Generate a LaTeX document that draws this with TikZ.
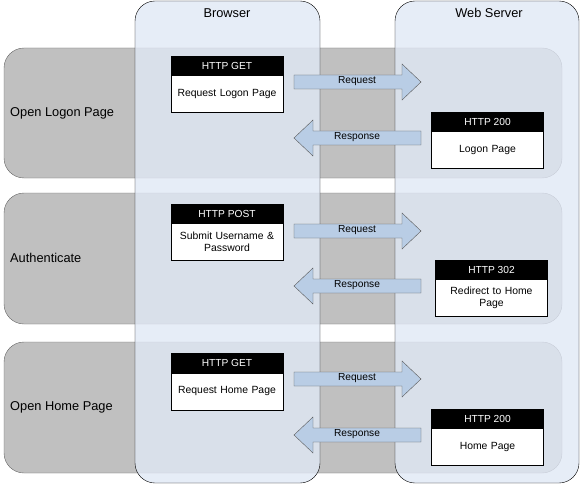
\documentclass[tikz,border=0pt]{standalone}
\usepackage{fontspec}
\setmainfont{Liberation Sans}
\usetikzlibrary{positioning}
\definecolor{bandgray}{HTML}{C0C0C0}
\definecolor{laneblue}{HTML}{E0E8F5}
\definecolor{arrowblue}{HTML}{B9CDE5}
\tikzset{
  band/.style={draw=black!60, fill=bandgray, rounded corners=20pt},
  lane/.style={draw=black, fill=laneblue, fill opacity=0.8, rounded corners=20pt},
  msghead/.style={draw=black, fill=black, text=white, font=\fontsize{10.2}{12}\selectfont,
    minimum width=112pt, minimum height=19pt, inner sep=0pt},
  msgbody/.style={draw=black, fill=white, font=\fontsize{10.4}{12.5}\selectfont,
    minimum width=112pt, minimum height=37pt, inner sep=0pt, text width=104pt, align=center},
  blockarrow/.style={draw=black!65, fill=arrowblue},
  arrowlabel/.style={font=\fontsize{10.2}{12}\selectfont, inner sep=0pt},
  phase/.style={font=\fontsize{12.8}{15}\selectfont, anchor=west, inner sep=0pt},
  lanetitle/.style={font=\fontsize{12.8}{15}\selectfont, inner sep=0pt}
}

\begin{document}
\begin{tikzpicture}[x=1pt,y=-1pt]
\useasboundingbox (0,0) rectangle (581,484);
% phases
\draw[band] (4,48) rectangle (562,178);
\draw[band] (4,193) rectangle (562,324);
\draw[band] (4,342) rectangle (562,473);
\node[phase] (logon) at (10,113) {Open Logon Page};
\node[phase] (auth) at (10,258) {Authenticate};
\node[phase] (home) at (10,407) {Open Home Page};
% lanes
\draw[lane] (135,1) rectangle (320,483);
\draw[lane] (395,1) rectangle (579,483);
\node[lanetitle] (browser) at (227,13) {Browser};
\node[lanetitle] (server) at (489,13) {Web Server};

% browser side
\node[msghead] (get1) at (227,65.5) {HTTP GET};
\node[msgbody, below=0pt of get1] (logonreq) {Request Logon Page};
\node[msghead] (post) at (227,213.5) {HTTP POST};
\node[msgbody, below=0pt of post] (submit) {Submit Username \&\\ Password};
\node[msghead] (get2) at (227,363) {HTTP GET};
\node[msgbody, below=0pt of get2] (homereq) {Request Home Page};

% server side
\node[msghead] (ok1) at (487.5,121.5) {HTTP 200};
\node[msgbody, below=0pt of ok1] (logonpage) {Logon Page};
\node[msghead] (redir) at (491.5,269.5) {HTTP 302};
\node[msgbody, below=0pt of redir] (redirect) {Redirect to Home\\ Page};
\node[msghead] (ok2) at (487.5,418.5) {HTTP 200};
\node[msgbody, below=0pt of ok2] (homepage) {Home Page};

% requests
\filldraw[blockarrow] (294,75) -- ++(108,0) -- ++(0,-11) -- ++(19,18) -- ++(-19,18) -- ++(0,-11) -- ++(-108,0) -- cycle;
\filldraw[blockarrow] (294,224) -- ++(108,0) -- ++(0,-11) -- ++(19,18) -- ++(-19,18) -- ++(0,-11) -- ++(-108,0) -- cycle;
\filldraw[blockarrow] (294,372) -- ++(108,0) -- ++(0,-11) -- ++(19,18) -- ++(-19,18) -- ++(0,-11) -- ++(-108,0) -- cycle;
% responses
\filldraw[blockarrow] (421,131) -- ++(-108,0) -- ++(0,-11) -- ++(-19,18) -- ++(19,18) -- ++(0,-11) -- ++(108,0) -- cycle;
\filldraw[blockarrow] (421,279) -- ++(-108,0) -- ++(0,-11) -- ++(-19,18) -- ++(19,18) -- ++(0,-11) -- ++(108,0) -- cycle;
\filldraw[blockarrow] (421,428) -- ++(-108,0) -- ++(0,-11) -- ++(-19,18) -- ++(19,18) -- ++(0,-11) -- ++(108,0) -- cycle;

\node[arrowlabel] (req1) at (357,81) {Request};
\node[arrowlabel] (res1) at (357,137) {Response};
\node[arrowlabel] (req2) at (357,230) {Request};
\node[arrowlabel] (res2) at (357,285) {Response};
\node[arrowlabel] (req3) at (357,378) {Request};
\node[arrowlabel] (res3) at (357,434) {Response};
\end{tikzpicture}
\end{document}
